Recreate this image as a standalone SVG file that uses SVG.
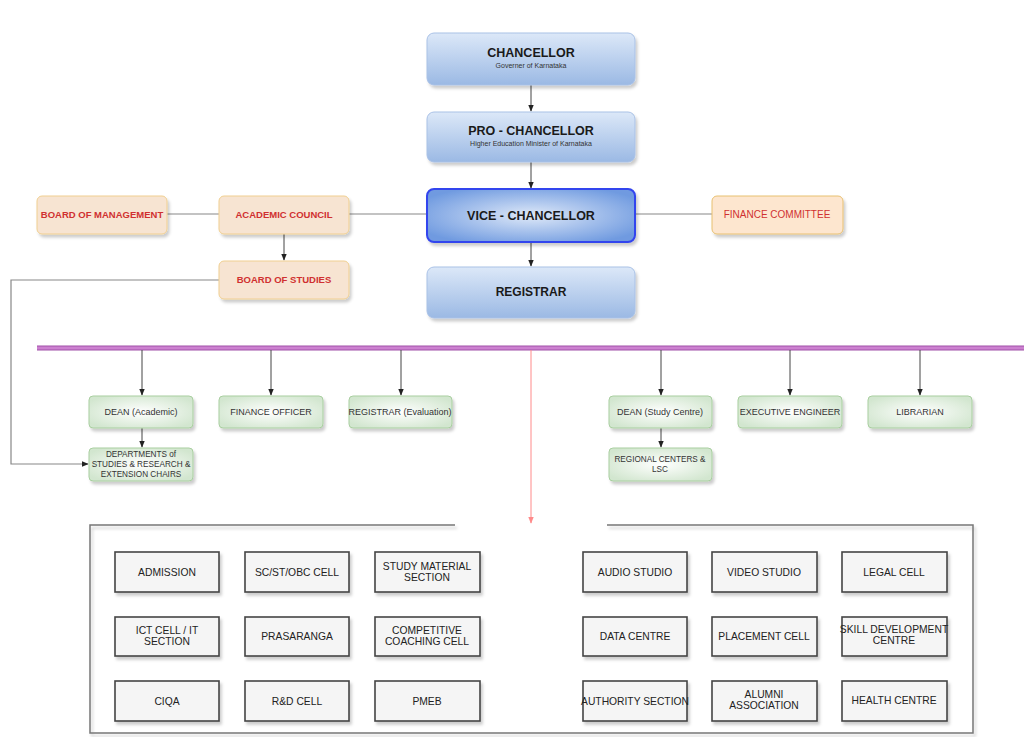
<svg xmlns="http://www.w3.org/2000/svg" width="1024" height="737" viewBox="0 0 1024 737">
<defs>
<linearGradient id="gBlue" x1="0" y1="0" x2="0" y2="1">
<stop offset="0" stop-color="#dce8f8"/>
<stop offset="1" stop-color="#9bb9e4"/>
</linearGradient>
<radialGradient id="gVC" cx="0.5" cy="0.5" r="0.6">
<stop offset="0" stop-color="#dfe9f8"/>
<stop offset="1" stop-color="#6f9ae0"/>
</radialGradient>
<radialGradient id="gGreen" cx="0.5" cy="0.5" r="0.6">
<stop offset="0" stop-color="#ffffff"/>
<stop offset="1" stop-color="#d2e6cf"/>
</radialGradient>
<filter id="sh" x="-10%" y="-10%" width="130%" height="140%">
<feDropShadow dx="2" dy="3" stdDeviation="1.5" flood-color="#000" flood-opacity="0.2"/>
</filter>
<marker id="arr" viewBox="0 0 10 10" refX="9" refY="5" markerWidth="7" markerHeight="7" orient="auto" markerUnits="userSpaceOnUse">
<path d="M0,1 L10,5 L0,9 Z" fill="#222"/>
</marker>
<marker id="arrR" viewBox="0 0 10 10" refX="9" refY="5" markerWidth="7" markerHeight="7" orient="auto" markerUnits="userSpaceOnUse">
<path d="M0,1 L10,5 L0,9 Z" fill="#ff8a8a"/>
</marker>
<style>
.blue{fill:url(#gBlue);stroke:#a9c1e6;stroke-width:1;filter:url(#sh)}
.vc{fill:url(#gVC);stroke:#3344ee;stroke-width:2;filter:url(#sh)}
.org{fill:#f7e4d2;stroke:#f0cf90;stroke-width:1;filter:url(#sh)}
.fc{fill:#fde6cf;stroke:#e8c070;stroke-width:1;filter:url(#sh)}
.grn{fill:url(#gGreen);stroke:#a9cfa0;stroke-width:1;filter:url(#sh)}
.cell{fill:#f5f5f5;stroke:#444;stroke-width:1.6;filter:url(#sh)}
.t{font-family:"Liberation Sans",Arial,sans-serif;text-anchor:middle}
.tb{font-weight:bold;fill:#1a1a1a}
.sub{font-size:7px;fill:#333}
.red{font-size:9.5px;font-weight:bold;fill:#d03030}
.g{font-size:9px;fill:#333}
.c{font-size:10.3px;fill:#222}
.ln{fill:none;stroke:#444;stroke-width:1}
.lg{fill:none;stroke:#888;stroke-width:1.2}
</style>
</defs>
<rect width="1024" height="737" fill="#ffffff"/>

<g id="connectors">
<line class="ln" x1="531" y1="85" x2="531" y2="111" marker-end="url(#arr)"/>
<line class="ln" x1="531" y1="162" x2="531" y2="188" marker-end="url(#arr)"/>
<line class="ln" x1="531" y1="242" x2="531" y2="266" marker-end="url(#arr)"/>
<line class="lg" x1="167" y1="214" x2="219" y2="214"/>
<line class="lg" x1="349" y1="214" x2="427" y2="214"/>
<line class="lg" x1="635" y1="214" x2="712" y2="214"/>
<line class="ln" x1="284" y1="234" x2="284" y2="260" marker-end="url(#arr)"/>
<polyline class="lg" points="219,280 11,280 11,464 88,464" marker-end="url(#arr)"/>
<line x1="37" y1="348" x2="1024" y2="348" stroke="#a050a8" stroke-width="5"/>
<line x1="37" y1="348" x2="1024" y2="348" stroke="#cc80d0" stroke-width="3"/>
<line class="ln" x1="142" y1="350" x2="142" y2="395" marker-end="url(#arr)"/>
<line class="ln" x1="271" y1="350" x2="271" y2="395" marker-end="url(#arr)"/>
<line class="ln" x1="401" y1="350" x2="401" y2="395" marker-end="url(#arr)"/>
<line class="ln" x1="661" y1="350" x2="661" y2="395" marker-end="url(#arr)"/>
<line class="ln" x1="790" y1="350" x2="790" y2="395" marker-end="url(#arr)"/>
<line class="ln" x1="920" y1="350" x2="920" y2="395" marker-end="url(#arr)"/>
<line class="ln" x1="142" y1="428" x2="142" y2="447" marker-end="url(#arr)"/>
<line class="ln" x1="661" y1="428" x2="661" y2="447" marker-end="url(#arr)"/>
<line x1="531" y1="350" x2="531" y2="523" stroke="#ff8a8a" stroke-width="1" marker-end="url(#arrR)"/>
</g>

<g id="container" filter="url(#sh)">
<polyline points="455,525 90,525 90,733 973,733 973,525 607,525" fill="none" stroke="#777" stroke-width="1.5"/>
</g>

<g id="chancellor">
<rect class="blue" x="427" y="33" width="208" height="52" rx="7"/>
<text class="t tb" x="531" y="57" font-size="12.5">CHANCELLOR</text>
<text class="t sub" x="531" y="68">Governer of Karnataka</text>
</g>
<g id="pro-chancellor">
<rect class="blue" x="427" y="112" width="208" height="50" rx="7"/>
<text class="t tb" x="531" y="135" font-size="12.5">PRO - CHANCELLOR</text>
<text class="t sub" x="531" y="146">Higher Education Minister of Karnataka</text>
</g>
<g id="vice-chancellor">
<rect class="vc" x="427" y="189" width="208" height="53" rx="7"/>
<text class="t tb" x="531" y="220" font-size="12.5">VICE - CHANCELLOR</text>
</g>
<g id="registrar">
<rect class="blue" x="427" y="267" width="208" height="51" rx="7"/>
<text class="t tb" x="531" y="296" font-size="12">REGISTRAR</text>
</g>

<g id="board-of-management">
<rect class="org" x="37" y="196" width="130" height="38" rx="5"/>
<text class="t red" x="102" y="218">BOARD OF MANAGEMENT</text>
</g>
<g id="academic-council">
<rect class="org" x="219" y="196" width="130" height="38" rx="5"/>
<text class="t red" x="284" y="218">ACADEMIC COUNCIL</text>
</g>
<g id="board-of-studies">
<rect class="org" x="219" y="261" width="130" height="38" rx="5"/>
<text class="t red" x="284" y="283">BOARD OF STUDIES</text>
</g>
<g id="finance-committee">
<rect class="fc" x="712" y="196" width="131" height="38" rx="5"/>
<text class="t" x="777" y="218" font-size="10" fill="#d03030">FINANCE COMMITTEE</text>
</g>

<g id="dean-academic">
<rect class="grn" x="89" y="396" width="104" height="32" rx="4"/>
<text class="t g" x="141" y="415">DEAN (Academic)</text>
</g>
<g id="finance-officer">
<rect class="grn" x="219" y="396" width="104" height="32" rx="4"/>
<text class="t g" x="271" y="415">FINANCE OFFICER</text>
</g>
<g id="registrar-evaluation">
<rect class="grn" x="349" y="396" width="103" height="32" rx="4"/>
<text class="t g" x="400" y="415">REGISTRAR (Evaluation)</text>
</g>
<g id="departments">
<rect class="grn" x="89" y="448" width="104" height="33" rx="4"/>
<text class="t" x="141" y="457" font-size="8.2" fill="#333">DEPARTMENTS of</text>
<text class="t" x="141" y="467" font-size="8.2" fill="#333">STUDIES &amp; RESEARCH &amp;</text>
<text class="t" x="141" y="477" font-size="8.2" fill="#333">EXTENSION CHAIRS</text>
</g>
<g id="dean-study-centre">
<rect class="grn" x="609" y="396" width="103" height="32" rx="4"/>
<text class="t g" x="660" y="415">DEAN (Study Centre)</text>
</g>
<g id="executive-engineer">
<rect class="grn" x="738" y="396" width="104" height="32" rx="4"/>
<text class="t g" x="790" y="415">EXECUTIVE ENGINEER</text>
</g>
<g id="librarian">
<rect class="grn" x="868" y="396" width="104" height="32" rx="4"/>
<text class="t g" x="920" y="415">LIBRARIAN</text>
</g>
<g id="regional-centers">
<rect class="grn" x="609" y="448" width="103" height="33" rx="4"/>
<text class="t" x="660" y="462" font-size="8.2" fill="#333">REGIONAL CENTERS &amp;</text>
<text class="t" x="660" y="472" font-size="8.2" fill="#333">LSC</text>
</g>

<g id="admission"><rect class="cell" x="115" y="552" width="104" height="40"/><text class="t c" x="167" y="576">ADMISSION</text></g>
<g id="scstobc"><rect class="cell" x="245" y="552" width="104" height="40"/><text class="t c" x="297" y="576">SC/ST/OBC CELL</text></g>
<g id="study-material"><rect class="cell" x="375" y="552" width="105" height="40"/><text class="t c" x="427" y="570">STUDY MATERIAL</text><text class="t c" x="427" y="581">SECTION</text></g>
<g id="ict-cell"><rect class="cell" x="115" y="617" width="104" height="39"/><text class="t c" x="167" y="634">ICT CELL / IT</text><text class="t c" x="167" y="645">SECTION</text></g>
<g id="prasaranga"><rect class="cell" x="245" y="617" width="104" height="39"/><text class="t c" x="297" y="640">PRASARANGA</text></g>
<g id="competitive"><rect class="cell" x="375" y="617" width="105" height="39"/><text class="t c" x="427" y="634">COMPETITIVE</text><text class="t c" x="427" y="645">COACHING CELL</text></g>
<g id="ciqa"><rect class="cell" x="115" y="681" width="104" height="40"/><text class="t c" x="167" y="705">CIQA</text></g>
<g id="rd-cell"><rect class="cell" x="245" y="681" width="104" height="40"/><text class="t c" x="297" y="705">R&amp;D CELL</text></g>
<g id="pmeb"><rect class="cell" x="375" y="681" width="105" height="40"/><text class="t c" x="427" y="705">PMEB</text></g>

<g id="audio-studio"><rect class="cell" x="583" y="552" width="104" height="40"/><text class="t c" x="635" y="576">AUDIO STUDIO</text></g>
<g id="video-studio"><rect class="cell" x="712" y="552" width="105" height="40"/><text class="t c" x="764" y="576">VIDEO STUDIO</text></g>
<g id="legal-cell"><rect class="cell" x="842" y="552" width="105" height="40"/><text class="t c" x="894" y="576">LEGAL CELL</text></g>
<g id="data-centre"><rect class="cell" x="583" y="617" width="104" height="39"/><text class="t c" x="635" y="640">DATA CENTRE</text></g>
<g id="placement-cell"><rect class="cell" x="712" y="617" width="105" height="39"/><text class="t c" x="764" y="640">PLACEMENT CELL</text></g>
<g id="skill-development"><rect class="cell" x="842" y="617" width="105" height="39"/><text class="t c" x="894" y="633">SKILL DEVELOPMENT</text><text class="t c" x="894" y="644">CENTRE</text></g>
<g id="authority-section"><rect class="cell" x="583" y="681" width="104" height="40"/><text class="t c" x="635" y="705">AUTHORITY SECTION</text></g>
<g id="alumni"><rect class="cell" x="712" y="681" width="105" height="40"/><text class="t c" x="764" y="698">ALUMNI</text><text class="t c" x="764" y="709">ASSOCIATION</text></g>
<g id="health-centre"><rect class="cell" x="842" y="681" width="105" height="40"/><text class="t c" x="894" y="704">HEALTH CENTRE</text></g>
</svg>
